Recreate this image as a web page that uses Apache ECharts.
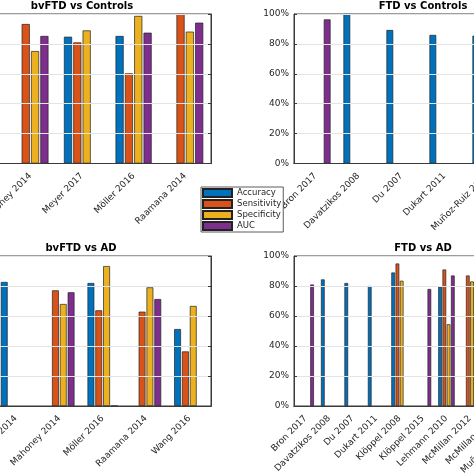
<!DOCTYPE html>
<html>
<head>
<meta charset="utf-8">
<script src="https://cdn.jsdelivr.net/npm/echarts@6/dist/echarts.min.js"></script>
<style>html,body{margin:0;padding:0;background:#fff;}#c{width:474px;height:474px;}</style>
</head>
<body>
<div id="c"></div>
<script>
const seriesNames = ['Accuracy', 'Sensitivity', 'Specificity', 'AUC'];
const seriesColors = ['#0072BD', '#D95319', '#EDB120', '#7E2F8E'];
const yTicks = [0, 20, 40, 60, 80, 100];

// bvFTD vs Controls
const tlCategories = ['Canu 2017', 'Mahoney 2014', 'Meyer 2017', 'Möller 2016', 'Raamana 2014'];
const tlAccuracy    = [null, null, 84.8, 85.3, null];
const tlSensitivity = [null, 93.3, 81.0, 60.3, 100];
const tlSpecificity = [null, 75.2, 89.0, 98.7, 88.2];
const tlAUC         = [null, 85.3, null, 87.5, 94.2];

// FTD vs Controls
const trCategories = ['Bron 2017', 'Davatzikos 2008', 'Du 2007', 'Dukart 2011', 'Muñoz-Ruiz 2012', 'Wang 2016'];
const trAccuracy    = [null, 100, 89.3, 86.0, 85.5, null];
const trSensitivity = [null, null, null, null, null, null];
const trSpecificity = [null, null, null, null, null, null];
const trAUC         = [96.4, null, null, null, null, null];

// bvFTD vs AD
const blCategories = ['Bron 2017', 'Bouts 2014', 'Mahoney 2014', 'Möller 2016', 'Raamana 2014', 'Wang 2016'];
const blAccuracy    = [null, 82.7, null, 82.0, null, 51.3];
const blSensitivity = [null, null, 77.1, 63.8, 62.9, 36.4];
const blSpecificity = [null, null, 68.0, 93.3, 79.1, 66.7];
const blAUC         = [null, null, 75.8, 0, 71.3, null];

// FTD vs AD
const brCategories = ['Bron 2017', 'Davatzikos 2008', 'Du 2007', 'Dukart 2011', 'Klöppel 2008', 'Klöppel 2015', 'Lehmann 2010', 'McMillan 2012', 'McMillan 2013', 'Muñoz-Ruiz 2012', 'Wang 2016'];
const brAccuracy    = [null, 84.4, 82.0, 80.0, 89.0, null, 79.5, null, null, null, null];
const brSensitivity = [null, null, null, null, 95.0, null, 91.0, 87.0, null, null, null];
const brSpecificity = [null, null, null, null, 83.5, null, 54.5, 83.0, null, null, null];
const brAUC         = [81.0, null, null, null, null, 78.0, 87.0, null, null, null, null];

const panels = [
  {title: 'bvFTD vs Controls', cats: tlCategories, vals: [tlAccuracy, tlSensitivity, tlSpecificity, tlAUC], box: {left: -47, top: 14, width: 258, height: 149.5}},
  {title: 'FTD vs Controls', cats: trCategories, vals: [trAccuracy, trSensitivity, trSpecificity, trAUC], box: {left: 294, top: 14, width: 258, height: 149.5}},
  {title: 'bvFTD vs AD', cats: blCategories, vals: [blAccuracy, blSensitivity, blSpecificity, blAUC], box: {left: -49, top: 256, width: 260, height: 150}},
  {title: 'FTD vs AD', cats: brCategories, vals: [brAccuracy, brSensitivity, brSpecificity, brAUC], box: {left: 294, top: 256, width: 258, height: 150}}
];

const FONT = 'DejaVu Sans';
const AX = '#3a3a3a';
const TXT = '#262626';

const option = {
  animation: false,
  backgroundColor: '#fff',
  title: [], grid: [], xAxis: [], yAxis: [], series: [],
  legend: {
    data: seriesNames,
    orient: 'vertical',
    left: 201, top: 187,
    icon: 'rect',
    itemWidth: 29, itemHeight: 8, itemGap: 1,
    padding: [1, 2, 1, 1],
    borderColor: '#333', borderWidth: 0.8,
    backgroundColor: '#fff',
    selectedMode: false,
    z: 20,
    textStyle: {fontFamily: FONT, fontSize: 8.5, color: TXT, lineHeight: 10}
  }
};

panels.forEach((p, i) => {
  option.title.push({
    text: p.title,
    left: p.box.left + p.box.width / 2,
    top: p.box.top - 14,
    textAlign: 'center',
    padding: 0,
    textStyle: {fontFamily: FONT, fontSize: 10, fontWeight: 'bold', color: '#000', lineHeight: 12}
  });
  option.grid.push(Object.assign({show: true, borderColor: AX, borderWidth: 1, backgroundColor: '#fff', containLabel: false, outerBoundsMode: 'none'}, p.box));
  option.xAxis.push({
    type: 'category', gridIndex: i, data: p.cats, position: 'bottom', z: 5,
    axisLine: {lineStyle: {color: AX, width: 1}},
    axisTick: {alignWithLabel: true, inside: true, length: 3, lineStyle: {color: AX}},
    axisLabel: {interval: 0, rotate: 45, margin: 11, fontFamily: FONT, fontSize: 9, color: TXT, hideOverlap: false}
  });
  option.xAxis.push({
    type: 'category', gridIndex: i, data: p.cats, position: 'top', z: 5,
    axisLine: {lineStyle: {color: AX, width: 1}},
    axisTick: {alignWithLabel: true, inside: true, length: 3, lineStyle: {color: AX}},
    axisLabel: {show: false}
  });
  option.yAxis.push({
    type: 'value', gridIndex: i, min: yTicks[0], max: yTicks[yTicks.length - 1], interval: yTicks[1] - yTicks[0], position: 'left', z: 5,
    axisLine: {show: true, lineStyle: {color: AX, width: 1}},
    axisTick: {show: true, inside: true, length: 3, lineStyle: {color: AX}},
    axisLabel: {formatter: '{value}%', margin: 5, fontFamily: FONT, fontSize: 9, color: TXT},
    splitLine: {show: true, lineStyle: {color: '#e4e4e4', width: 1}}
  });
  option.yAxis.push({
    type: 'value', gridIndex: i, min: yTicks[0], max: yTicks[yTicks.length - 1], interval: yTicks[1] - yTicks[0], position: 'right', z: 5,
    axisLine: {show: true, lineStyle: {color: AX, width: 1}},
    axisTick: {show: true, inside: true, length: 3, lineStyle: {color: AX}},
    axisLabel: {show: false},
    splitLine: {show: false}
  });
  seriesNames.forEach((name, k) => {
    option.series.push({
      name: name, type: 'bar',
      xAxisIndex: 2 * i, yAxisIndex: 2 * i,
      data: p.vals[k],
      barGap: '15%', barCategoryGap: '30%',
      itemStyle: {color: seriesColors[k], borderColor: '#222', borderWidth: 0.7}
    });
  });
});

const chart = echarts.init(document.getElementById('c'), null, {renderer: 'canvas'});
chart.setOption(option);
</script>
</body>
</html>
